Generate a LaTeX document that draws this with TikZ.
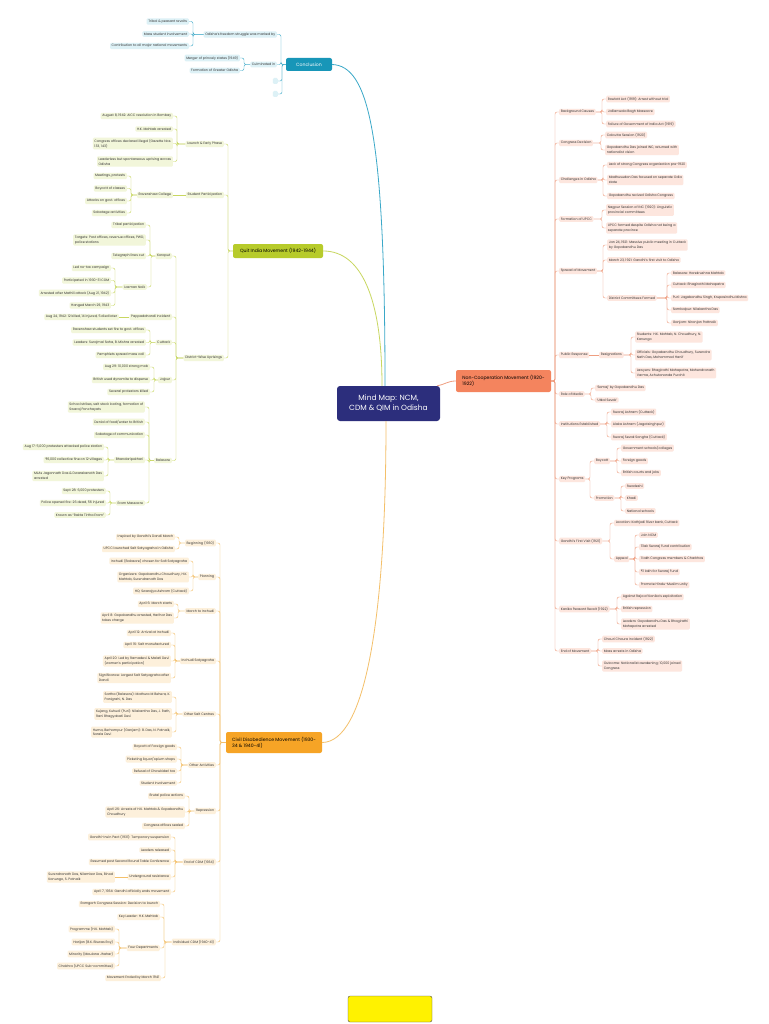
\documentclass[tikz,border=0pt]{standalone}
\usepackage{fontspec}
\setmainfont{Poppins}
\newfontfamily\symfont{DejaVu Sans}
\usetikzlibrary{positioning}

\definecolor{conccol}{HTML}{1896B8}
\definecolor{conclite}{HTML}{DDF1F6}
\definecolor{concline}{HTML}{3AA8C8}
\definecolor{qicol}{HTML}{B7CB2B}
\definecolor{qilite}{HTML}{F2F6DA}
\definecolor{qiline}{HTML}{C8D760}
\definecolor{cdmcol}{HTML}{F6A426}
\definecolor{cdmlite}{HTML}{FDF0DB}
\definecolor{cdmline}{HTML}{F4C06A}
\definecolor{ncmcol}{HTML}{F4845E}
\definecolor{ncmlite}{HTML}{FDE6DE}
\definecolor{ncmline}{HTML}{EF9E80}
\definecolor{hubcol}{HTML}{2C2E7C}

\begin{document}
\begin{tikzpicture}[x=1pt, y=-1pt,
  leaf/.style={rounded corners=1.2pt, inner xsep=1.6pt, inner ysep=1.5pt, align=left, text=black!80, font=\fontsize{3.3}{4.9}\selectfont},
  cleaf/.style={leaf, fill=conclite, anchor=east},
  qleaf/.style={leaf, fill=qilite, anchor=east},
  dleaf/.style={leaf, fill=cdmlite, anchor=east},
  nleaf/.style={leaf, fill=ncmlite, anchor=west},
  topic/.style={rounded corners=2pt, inner xsep=3pt, align=left, font=\fontsize{4.6}{6}\selectfont},
  hub/.style={fill=hubcol, text=white, rounded corners=3pt, minimum width=103pt, minimum height=35pt, align=center, font=\fontsize{7.5}{10}\selectfont},
  cl/.style={draw=concline, line width=0.45pt, rounded corners=2pt},
  ql/.style={draw=qiline, line width=0.45pt, rounded corners=2pt},
  dl/.style={draw=cdmline, line width=0.45pt, rounded corners=2pt},
  nl/.style={draw=ncmline, line width=0.45pt, rounded corners=2pt},
  mainl/.style={line width=0.8pt}
]
\fill[white] (0,0) rectangle (768,1024);

% centre
\node[hub] (mm) at (388.5,403.5) {Mind Map: NCM,\\CDM \& QIM in Odisha};

% conclusion
\node[topic, fill=conccol, text=white, minimum width=46pt, minimum height=13pt, align=center] (cc) at (309,64.5) {Conclusion};
\node[cleaf] (c1) at (277,34.5) {Odisha's freedom struggle was marked by};
\node[cleaf] (c2) at (277,64.5) {Culminated in};
\node[cleaf, minimum width=5pt, minimum height=6pt] (c3) at (278,81) {};
\node[cleaf, minimum width=5pt, minimum height=6pt] (c4) at (278,94) {};
\node[cleaf] (c11) at (189,21.5) {Tribal \& peasant revolts};
\node[cleaf] (c12) at (189,34) {Mass student involvement};
\node[cleaf] (c13) at (189,46) {Contribution to all major national movements};
\node[cleaf] (c21) at (240,58) {Merger of princely states (1949)};
\node[cleaf] (c22) at (240,70.5) {Formation of Greater Odisha};

\foreach \k in {c1,c2,c3,c4} \draw[cl] (cc.west) -| ([xshift=4pt]\k.east) -- (\k.east);
\foreach \k in {c11,c12,c13} \draw[cl] (c1.west) -| ([xshift=4pt]\k.east) -- (\k.east);
\foreach \k in {c21,c22} \draw[cl] (c2.west) -| ([xshift=4pt]\k.east) -- (\k.east);

% quit india
\node[topic, fill=qicol, minimum width=90pt, minimum height=14pt] (qq) at (278,251) {Quit India Movement (1942-1944)};
\node[qleaf] (q1) at (224,144) {Launch \& Early Phase};
\node[qleaf] (q2) at (224,195) {Student Participation};
\node[qleaf] (q3) at (224,358) {District-Wise Uprisings};
\node[qleaf] (q11) at (173,116) {August 8, 1942: AICC resolution in Bombay};
\node[qleaf] (q12) at (173,129) {H.K. Mahtab arrested};
\node[qleaf] (q13) at (173,143.5) {Congress offices declared illegal (Gazette Nos.\\133, 143)};
\node[qleaf] (q14) at (173,161.5) {Leaderless but spontaneous uprising across\\Odisha};
\node[qleaf] (q21) at (173,195) {Ravenshaw College};
\node[qleaf] (q211) at (127,176) {Meetings, protests};
\node[qleaf] (q212) at (127,188.5) {Boycott of classes};
\node[qleaf] (q213) at (127,201) {Attacks on govt. offices};
\node[qleaf] (q214) at (127,213) {Sabotage activities};
\node[qleaf] (q31) at (172,256) {Koraput};
\node[qleaf] (q311) at (146,225) {Tribal participation};
\node[qleaf] (q312) at (146,240) {Targets: Post offices, revenue offices, PWD,\\police stations};
\node[qleaf] (q313) at (146,256) {Telegraph lines cut};
\node[qleaf] (q314) at (147,287) {Laxman Naik};
\node[qleaf] (q3141) at (111,268) {Led no-tax campaign};
\node[qleaf] (q3142) at (111,280.5) {Participated in 1930-31 CDM};
\node[qleaf] (q3143) at (111,293) {Arrested after Mathili attack (Aug 21, 1942)};
\node[qleaf] (q3144) at (111,305.5) {Hanged March 29, 1943};
\node[qleaf] (q32) at (172,317) {Pappadahandi Incident};
\node[qleaf] (q321) at (119,317) {Aug 24, 1942: 12 killed, 14 injured, 5 died later};
\node[qleaf] (q33) at (172,342.5) {Cuttack};
\node[qleaf] (q331) at (146,330) {Ravenshaw students set fire to govt. offices};
\node[qleaf] (q332) at (146,342.5) {Leaders: Surajmal Saha, B. Mishra arrested};
\node[qleaf] (q333) at (146,355) {Pamphlets spread mass call};
\node[qleaf] (q34) at (172,380) {Jajpur};
\node[qleaf] (q341) at (150,367) {Aug 29: 10,000 strong mob};
\node[qleaf] (q342) at (150,380) {British used dynamite to disperse};
\node[qleaf] (q343) at (150,392) {Several protestors killed};
\node[qleaf] (q35) at (172,460.5) {Balasore};
\node[qleaf] (q351) at (145,407) {School strikes, salt stock looting, formation of\\Swaraj Panchayats};
\node[qleaf] (q352) at (145,422) {Denial of food/water to British};
\node[qleaf] (q353) at (145,435) {Sabotage of communication};
\node[qleaf] (q354) at (145,460) {Bhandaripokhari};
\node[qleaf] (q3541) at (104,447) {Aug 17: 5,000 protesters attacked police station};
\node[qleaf] (q3542) at (104,460) {{\symfont ₹}6,000 collective fine on 12 villages};
\node[qleaf] (q3543) at (104,476) {MLAs Jagannath Das \& Dwarakanath Das\\arrested};
\node[qleaf] (q355) at (145,503) {Eram Massacre};
\node[qleaf] (q3551) at (106,491) {Sept 28: 6,000 protesters};
\node[qleaf] (q3552) at (106,503) {Police opened fire: 26 dead, 56 injured};
\node[qleaf] (q3553) at (106,515) {Known as ``Rakta Tirtha Eram''};

\foreach \k in {q1,q2,q3} \draw[ql] (qq.west) -| ([xshift=4pt]\k.east) -- (\k.east);
\foreach \k in {q11,q12,q13,q14} \draw[ql] (q1.west) -| ([xshift=4pt]\k.east) -- (\k.east);
\draw[ql] (q2.west) -- (q21.east);
\foreach \k in {q211,q212,q213,q214} \draw[ql] (q21.west) -| ([xshift=4pt]\k.east) -- (\k.east);
\foreach \k in {q31,q32,q33,q34,q35} \draw[ql] (q3.west) -| ([xshift=4pt]\k.east) -- (\k.east);
\foreach \k in {q311,q312,q313,q314} \draw[ql] (q31.west) -| ([xshift=4pt]\k.east) -- (\k.east);
\foreach \k in {q3141,q3142,q3143,q3144} \draw[ql] (q314.west) -| ([xshift=4pt]\k.east) -- (\k.east);
\draw[ql] (q32.west) -- (q321.east);
\foreach \k in {q331,q332,q333} \draw[ql] (q33.west) -| ([xshift=4pt]\k.east) -- (\k.east);
\foreach \k in {q341,q342,q343} \draw[ql] (q34.west) -| ([xshift=4pt]\k.east) -- (\k.east);
\foreach \k in {q351,q352,q353,q354,q355} \draw[ql] (q35.west) -| ([xshift=4pt]\k.east) -- (\k.east);
\foreach \k in {q3541,q3542,q3543} \draw[ql] (q354.west) -| ([xshift=4pt]\k.east) -- (\k.east);
\foreach \k in {q3551,q3552,q3553} \draw[ql] (q355.west) -| ([xshift=4pt]\k.east) -- (\k.east);

% civil disobedience
\node[topic, fill=cdmcol, minimum width=96pt, minimum height=21pt] (dd) at (274,742.5) {Civil Disobedience Movement (1930-\\34 \& 1940-41)};
\node[dleaf] (d1) at (216,543) {Beginning (1930)};
\node[dleaf] (d2) at (216,577) {Planning};
\node[dleaf] (d3) at (216,611) {March to Inchudi};
\node[dleaf] (d4) at (216,661) {Inchudi Satyagraha};
\node[dleaf] (d5) at (216,714) {Other Salt Centres};
\node[dleaf] (d6) at (216,765) {Other Activities};
\node[dleaf] (d7) at (216,811) {Repression};
\node[dleaf] (d8) at (216,862) {End of CDM (1934)};
\node[dleaf] (d9) at (216,942) {Individual CDM (1940-41)};
\node[dleaf] (d11) at (175,537) {Inspired by Gandhi's Dandi March};
\node[dleaf] (d12) at (175,549) {UPCC launched Salt Satyagraha in Odisha};
\node[dleaf] (d21) at (189,561) {Inchudi (Balasore) chosen for Salt Satyagraha};
\node[dleaf] (d22) at (189,577) {Organizers: Gopabandhu Choudhury, H.K.\\Mahtab, Surendranath Das};
\node[dleaf] (d23) at (189,591) {HQ: Swarajya Ashram (Cuttack)};
\node[dleaf] (d31) at (174,604) {April 6: March starts};
\node[dleaf] (d32) at (174,618) {April 8: Gopabandhu arrested, Harihar Das\\takes charge};
\node[dleaf] (d41) at (171,633) {April 12: Arrival at Inchudi};
\node[dleaf] (d42) at (171,645) {April 16: Salt manufactured};
\node[dleaf] (d43) at (171,661) {April 20: Led by Ramadevi \& Malati Devi\\(women's participation)};
\node[dleaf] (d44) at (171,678) {Significance: Largest Salt Satyagraha after\\Dandi};
\node[dleaf] (d51) at (172,697) {Sartha (Balasore): Mathura M Behera, K.\\Panigrahi, N. Das};
\node[dleaf] (d52) at (172,714) {Kujang, Kuhudi (Puri): Nilakantha Das, J. Rath,\\Rani Bhagyabati Devi};
\node[dleaf] (d53) at (172,732) {Huma, Berhampur (Ganjam): B. Das, N. Patnaik,\\Sarala Devi};
\node[dleaf] (d61) at (177,747) {Boycott of Foreign goods};
\node[dleaf] (d62) at (177,759) {Picketing liquor/opium shops};
\node[dleaf] (d63) at (177,771) {Refusal of Chowkidari tax};
\node[dleaf] (d64) at (177,783) {Student Involvement};
\node[dleaf] (d71) at (185,796) {Brutal police actions};
\node[dleaf] (d72) at (185,812) {April 26: Arrests of H.K. Mahtab \& Gopabandhu\\Choudhury};
\node[dleaf] (d73) at (185,826) {Congress offices sealed};
\node[dleaf] (d81) at (171,837) {Gandhi-Irwin Pact (1931): Temporary suspension};
\node[dleaf] (d82) at (171,850) {Leaders released};
\node[dleaf] (d83) at (171,862) {Resumed post Second Round Table Conference};
\node[dleaf] (d84) at (171,877) {Underground resistance};
\node[dleaf] (d841) at (115,877) {Surendranath Das, Nilambar Das, Binod\\Kanungo, S. Patnaik};
\node[dleaf] (d85) at (171,892) {April 7, 1934: Gandhi officially ends movement};
\node[dleaf] (d91) at (160,904) {Ramgarh Congress Session: Decision to launch};
\node[dleaf] (d92) at (160,917) {Key Leader: H.K. Mahtab};
\node[dleaf] (d93) at (160,948) {Four Departments};
\node[dleaf] (d94) at (161,978) {Movement Ended by March 1941};
\node[dleaf] (d931) at (115,929) {Programme (H.K. Mahtab)};
\node[dleaf] (d932) at (115,942) {Harijan (B.K. Biswas Roy)};
\node[dleaf] (d933) at (115,954) {Minority (Maulana Jhahar)};
\node[dleaf] (d934) at (115,966) {Chakhra (UPCC Sub-committee)};

\foreach \k in {d1,d2,d3,d4,d5,d6,d7,d8,d9} \draw[dl] (dd.west) -| ([xshift=4pt]\k.east) -- (\k.east);
\foreach \k in {d11,d12} \draw[dl] (d1.west) -| ([xshift=4pt]\k.east) -- (\k.east);
\foreach \k in {d21,d22,d23} \draw[dl] (d2.west) -| ([xshift=4pt]\k.east) -- (\k.east);
\foreach \k in {d31,d32} \draw[dl] (d3.west) -| ([xshift=4pt]\k.east) -- (\k.east);
\foreach \k in {d41,d42,d43,d44} \draw[dl] (d4.west) -| ([xshift=4pt]\k.east) -- (\k.east);
\foreach \k in {d51,d52,d53} \draw[dl] (d5.west) -| ([xshift=4pt]\k.east) -- (\k.east);
\foreach \k in {d61,d62,d63,d64} \draw[dl] (d6.west) -| ([xshift=4pt]\k.east) -- (\k.east);
\foreach \k in {d71,d72,d73} \draw[dl] (d7.west) -| ([xshift=4pt]\k.east) -- (\k.east);
\foreach \k in {d81,d82,d83,d84,d85} \draw[dl] (d8.west) -| ([xshift=4pt]\k.east) -- (\k.east);
\draw[dl] (d84.west) -- (d841.east);
\foreach \k in {d91,d92,d93,d94} \draw[dl] (d9.west) -| ([xshift=4pt]\k.east) -- (\k.east);
\foreach \k in {d931,d932,d933,d934} \draw[dl] (d93.west) -| ([xshift=4pt]\k.east) -- (\k.east);

% non-cooperation
\node[topic, fill=ncmcol, minimum width=95pt, minimum height=22pt] (nn) at (503.5,381) {Non-Cooperation Movement (1920-\\1922)};
\node[nleaf] (n1) at (559,112) {Background Causes};
\node[nleaf] (n2) at (559,143) {Congress Decision};
\node[nleaf] (n3) at (559,180) {Challenges in Odisha};
\node[nleaf] (n4) at (559,219) {Formation of UPCC};
\node[nleaf] (n5) at (559,271) {Spread of Movement};
\node[nleaf] (n6) at (559,355) {Public Response};
\node[nleaf] (n7) at (559,394) {Role of Media};
\node[nleaf] (n8) at (559,424) {Institutions Established};
\node[nleaf] (n9) at (559,479) {Key Programs};
\node[nleaf] (n10) at (559,541) {Gandhi's First Visit (1921)};
\node[nleaf] (n11) at (559,609) {Kanika Peasant Revolt (1922)};
\node[nleaf] (n12) at (559,651) {End of Movement};
\node[nleaf] (n1a) at (606,99) {Rowlatt Act (1919): Arrest without trial};
\node[nleaf] (n1b) at (606,112) {Jallianwala Bagh Massacre};
\node[nleaf] (n1c) at (606,124) {Failure of Government of India Act (1919)};
\node[nleaf] (n2a) at (605,135) {Calcutta Session (1920)};
\node[nleaf] (n2b) at (605,150) {Gopabandhu Das joined INC, returned with\\nationalist vision};
\node[nleaf] (n3a) at (607,165) {Lack of strong Congress organization pre-1920};
\node[nleaf] (n3b) at (607,180) {Madhusudan Das focused on separate Odia\\state};
\node[nleaf] (n3c) at (607,196) {Gopabandhu revived Odisha Congress};
\node[nleaf] (n4a) at (606,210) {Nagpur Session of INC (1920): Linguistic\\provincial committees};
\node[nleaf] (n4b) at (606,228) {UPCC formed despite Odisha not being a\\separate province};
\node[nleaf] (n5a) at (607,245) {Jan 24, 1921: Massive public meeting in Cuttack\\by Gopabandhu Das};
\node[nleaf] (n5b) at (607,260) {March 23, 1921: Gandhi's first visit to Odisha};
\node[nleaf] (n5c) at (607,298) {District Committees Formed};
\node[nleaf] (n5c1) at (671,273) {Balasore: Harekrushna Mahtab};
\node[nleaf] (n5c2) at (671,285) {Cuttack: Bhagirathi Mahapatra};
\node[nleaf] (n5c3) at (671,298) {Puri: Jagabandhu Singh, Krupasindhu Mishra};
\node[nleaf] (n5c4) at (671,310) {Sambalpur: Nilakantha Das};
\node[nleaf] (n5c5) at (671,323) {Ganjam: Niranjan Pattnaik};
\node[nleaf] (n6a) at (599,355) {Resignations};
\node[nleaf] (n6a1) at (635,337) {Students: H.K. Mahtab, N. Choudhury, N.\\Kanungo};
\node[nleaf] (n6a2) at (635,355) {Officials: Gopabandhu Choudhury, Surendra\\Nath Das, Mohammad Hanif};
\node[nleaf] (n6a3) at (635,373) {Lawyers: Bhagirathi Mahapatra, Mahendranath\\Varma, Achutananda Purohit};
\node[nleaf] (n7a) at (595,388) {`Samaj' by Gopabandhu Das};
\node[nleaf] (n7b) at (595,400) {`Utkal Sevak'};
\node[nleaf] (n8a) at (611,412) {Swaraj Ashram (Cuttack)};
\node[nleaf] (n8b) at (611,424) {Alaka Ashram (Jagatsinghpur)};
\node[nleaf] (n8c) at (611,437) {Swaraj Sevak Sangha (Cuttack)};
\node[nleaf] (n9a) at (594,461) {Boycott};
\node[nleaf] (n9b) at (594,498) {Promotion};
\node[nleaf] (n9a1) at (621,448) {Government schools/colleges};
\node[nleaf] (n9a2) at (621,461) {Foreign goods};
\node[nleaf] (n9a3) at (621,473) {British courts and jobs};
\node[nleaf] (n9b1) at (625,486) {Swadeshi};
\node[nleaf] (n9b2) at (625,498) {Khadi};
\node[nleaf] (n9b3) at (625,511) {National schools};
\node[nleaf] (n10a) at (614,523) {Location: Kathjodi River bank, Cuttack};
\node[nleaf] (n10b) at (614,559) {Appeal};
\node[nleaf] (n10b1) at (639,535) {Join NCM};
\node[nleaf] (n10b2) at (639,547) {Tilak Swaraj Fund contribution};
\node[nleaf] (n10b3) at (639,559) {1 lakh Congress members \& Charkhas};
\node[nleaf] (n10b4) at (639,572) {{\symfont ₹}1 lakh for Swaraj Fund};
\node[nleaf] (n10b5) at (639,585) {Promote Hindu-Muslim unity};
\node[nleaf] (n11a) at (621,597) {Against Raja of Kanika's exploitation};
\node[nleaf] (n11b) at (621,609) {British repression};
\node[nleaf] (n11c) at (621,624) {Leaders: Gopabandhu Das \& Bhagirathi\\Mahapatra arrested};
\node[nleaf] (n12a) at (602,639) {Chauri Chaura Incident (1922)};
\node[nleaf] (n12b) at (602,651) {Mass arrests in Odisha};
\node[nleaf] (n12c) at (602,666) {Outcome: Nationalist awakening; 10,000 joined\\Congress};

\foreach \k in {n1,n2,n3,n4,n5,n6,n7,n8,n9,n10,n11,n12} \draw[nl] (nn.east) -| ([xshift=-4pt]\k.west) -- (\k.west);
\foreach \k in {n1a,n1b,n1c} \draw[nl] (n1.east) -| ([xshift=-4pt]\k.west) -- (\k.west);
\foreach \k in {n2a,n2b} \draw[nl] (n2.east) -| ([xshift=-4pt]\k.west) -- (\k.west);
\foreach \k in {n3a,n3b,n3c} \draw[nl] (n3.east) -| ([xshift=-4pt]\k.west) -- (\k.west);
\foreach \k in {n4a,n4b} \draw[nl] (n4.east) -| ([xshift=-4pt]\k.west) -- (\k.west);
\foreach \k in {n5a,n5b,n5c} \draw[nl] (n5.east) -| ([xshift=-4pt]\k.west) -- (\k.west);
\foreach \k in {n5c1,n5c2,n5c3,n5c4,n5c5} \draw[nl] (n5c.east) -| ([xshift=-4pt]\k.west) -- (\k.west);
\draw[nl] (n6.east) -- (n6a.west);
\foreach \k in {n6a1,n6a2,n6a3} \draw[nl] (n6a.east) -| ([xshift=-4pt]\k.west) -- (\k.west);
\foreach \k in {n7a,n7b} \draw[nl] (n7.east) -| ([xshift=-4pt]\k.west) -- (\k.west);
\foreach \k in {n8a,n8b,n8c} \draw[nl] (n8.east) -| ([xshift=-4pt]\k.west) -- (\k.west);
\foreach \k in {n9a,n9b} \draw[nl] (n9.east) -| ([xshift=-4pt]\k.west) -- (\k.west);
\foreach \k in {n9a1,n9a2,n9a3} \draw[nl] (n9a.east) -| ([xshift=-4pt]\k.west) -- (\k.west);
\foreach \k in {n9b1,n9b2,n9b3} \draw[nl] (n9b.east) -| ([xshift=-4pt]\k.west) -- (\k.west);
\foreach \k in {n10a,n10b} \draw[nl] (n10.east) -| ([xshift=-4pt]\k.west) -- (\k.west);
\foreach \k in {n10b1,n10b2,n10b3,n10b4,n10b5} \draw[nl] (n10b.east) -| ([xshift=-4pt]\k.west) -- (\k.west);
\foreach \k in {n11a,n11b,n11c} \draw[nl] (n11.east) -| ([xshift=-4pt]\k.west) -- (\k.west);
\foreach \k in {n12a,n12b,n12c} \draw[nl] (n12.east) -| ([xshift=-4pt]\k.west) -- (\k.west);

% links from the centre
\draw[mainl, concline] (cc.east) .. controls (368,66) and (385,130) .. ([xshift=-3.5pt]mm.north);
\draw[mainl, qiline] (qq.east) .. controls (362,251) and (382,300) .. ([xshift=-6.5pt]mm.north);
\draw[mainl, cdmline] ([xshift=-2.5pt]mm.south) .. controls (386,620) and (365,742) .. (dd.east);
\draw[mainl, ncmline] ([xshift=-3pt]mm.north east) .. controls (446,384) and (448,381) .. (nn.west);

% empty box at the foot
\node[draw=black!70, fill=yellow, rounded corners=2pt, minimum width=84pt, minimum height=26pt] (foot) at (390,1009) {};
\end{tikzpicture}
\end{document}
